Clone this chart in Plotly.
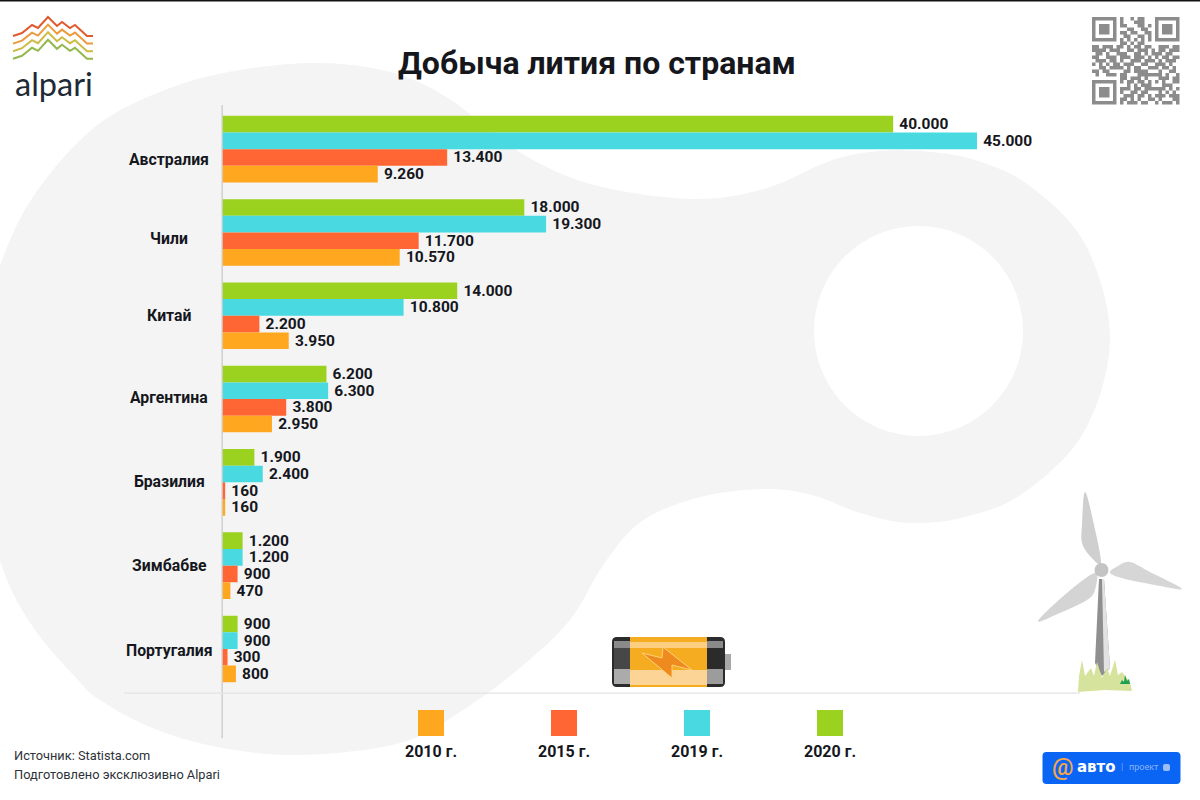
import plotly.graph_objects as go

# data
countries = ['Австралия', 'Чили', 'Китай', 'Аргентина', 'Бразилия', 'Зимбабве', 'Португалия']
years = ['2020 г.', '2019 г.', '2015 г.', '2010 г.']
y2020 = [40000, 18000, 14000, 6200, 1900, 1200, 900]
y2019 = [45000, 19300, 10800, 6300, 2400, 1200, 900]
y2015 = [13400, 11700, 2200, 3800, 160, 900, 300]
y2010 = [9260, 10570, 3950, 2950, 160, 470, 800]

title = 'Добыча лития по странам'
source_lines = ['Источник: Statista.com', 'Подготовлено эксклюзивно Alpari']

colors = ['#9BD11F', '#48DAE0', '#FF6633', '#FFA71F']
INK = '#15171c'
W, H = 1200, 800


# the page is 1200x800 and margins are 0, so paper coords are just pixels / size
def X(x):
    return x / W


def Y(y):
    return 1 - y / H


def poly(pts):
    return 'M' + ' L'.join(f'{X(x):.5f},{Y(y):.5f}' for x, y in pts) + ' Z'


def line_path(pts):
    return 'M' + ' L'.join(f'{X(x):.5f},{Y(y):.5f}' for x, y in pts)


def smooth(pts):
    # closed catmull-rom outline as cubic beziers
    n = len(pts)
    d = f'M{X(pts[0][0]):.5f},{Y(pts[0][1]):.5f}'
    for i in range(n):
        p0, p1, p2, p3 = pts[i - 1], pts[i], pts[(i + 1) % n], pts[(i + 2) % n]
        c1 = (p1[0] + (p2[0] - p0[0]) / 6, p1[1] + (p2[1] - p0[1]) / 6)
        c2 = (p2[0] - (p3[0] - p1[0]) / 6, p2[1] - (p3[1] - p1[1]) / 6)
        d += f' C{X(c1[0]):.5f},{Y(c1[1]):.5f} {X(c2[0]):.5f},{Y(c2[1]):.5f} {X(p2[0]):.5f},{Y(p2[1]):.5f}'
    return d + ' Z'


def round_rect(x0, y0, x1, y1, r):
    P = lambda x, y: f'{X(x):.5f},{Y(y):.5f}'
    return (f'M{P(x0 + r, y0)} L{P(x1 - r, y0)} Q{P(x1, y0)} {P(x1, y0 + r)} '
            f'L{P(x1, y1 - r)} Q{P(x1, y1)} {P(x1 - r, y1)} L{P(x0 + r, y1)} '
            f'Q{P(x0, y1)} {P(x0, y1 - r)} L{P(x0, y0 + r)} Q{P(x0, y0)} {P(x0 + r, y0)} Z')


shapes = []
notes = []


def fill(path, color, line=None, width=0):
    shapes.append(dict(type='path', path=path, xref='paper', yref='paper', layer='below',
                       fillcolor=color, line=dict(color=line or color, width=width)))


def stroke(path, color, width):
    shapes.append(dict(type='path', path=path, xref='paper', yref='paper', layer='below',
                       line=dict(color=color, width=width)))


def rect(x0, y0, x1, y1, color):
    shapes.append(dict(type='rect', x0=X(x0), x1=X(x1), y0=Y(y0), y1=Y(y1), xref='paper', yref='paper',
                       layer='below', fillcolor=color, line=dict(width=0)))


def circle(cx, cy, rx, ry, color):
    shapes.append(dict(type='circle', x0=X(cx - rx), x1=X(cx + rx), y0=Y(cy - ry), y1=Y(cy + ry),
                       xref='paper', yref='paper', layer='below', fillcolor=color, line=dict(width=0)))


def text(x, y, s, size, color=INK, weight=400, anchor='center', family='Roboto'):
    notes.append(dict(x=X(x), y=Y(y), xref='paper', yref='paper', text=s, showarrow=False,
                      xanchor=anchor, yanchor='middle',
                      font=dict(family=family, size=size, color=color, weight=weight)))


# grey blob behind the chart
blob = [(448, 98), (521, 153), (594, 185), (691, 199), (764, 189), (827, 162), (870, 152), (920, 151),
        (975, 160), (1030, 186), (1085, 244), (1110, 337), (1085, 430), (1025, 492), (965, 517), (909, 523),
        (860, 513), (812, 495), (764, 489), (700, 497), (642, 521), (604, 564), (570, 620), (521, 667),
        (463, 710), (400, 743), (300, 755), (217, 747), (150, 727), (100, 700), (78, 680), (35, 630),
        (5, 575), (-15, 500), (-25, 410), (-15, 320), (10, 240), (45, 180), (100, 123), (170, 88),
        (240, 70), (320, 63), (390, 72)]
fill(smooth(blob), '#F4F4F5')
circle(918.5, 331, 104.5, 105, '#FFFFFF')

# top border
rect(0, 0, W, 1.5, '#111111')

# axis lines
rect(221.5, 105, 222.8, 738, '#C9C9C9')
rect(124, 692.5, 1080, 693.8, '#E3E3E3')

# logo
zig = [(13, 36), (22, 33), (32, 25), (38, 28), (48, 17), (57, 26), (62, 22), (70, 28), (75, 25), (87, 36), (93, 36)]
for k, c in enumerate(['#DF5A2E', '#EC9A3C', '#CDBB45', '#93B84C']):
    stroke(line_path([(x, y + k * 7.6) for x, y in zig]), c, 2)
text(53.5, 83, 'alpari', 32.5, '#1E2A35', 400, family='Lato')

# QR code
qr_rows = [
    '1111111010010110001111111',
    '1000001010001110001000001',
    '1011101011000110101011101',
    '1011101000110011001011101',
    '1011101011011001101011101',
    '1000001001100110101000001',
    '1111111010101010101111111',
    '0000000011010110000000000',
    '1101110110101101100111011',
    '1111011100110111010110111',
    '0110100111001101011101100',
    '1100111011101110101011011',
    '0111011010011101110101110',
    '1010101101110011001110100',
    '0011011110101100111011010',
    '1101100001101111000100110',
    '0100111011000111111101001',
    '0000000011011101000111011',
    '1111111010110110101010011',
    '1000001000101011100011100',
    '1011101011101101111110101',
    '1011101010011011000101010',
    '1011101001110110101110111',
    '1000001011010100110100011',
    '1111111010111011001011101',
]
m = 3.5
qr_path = ''
for r, row in enumerate(qr_rows):
    for c, v in enumerate(row):
        if v == '1':
            x0, y0 = 1092 + c * m, 17 + r * m
            qr_path += poly([(x0, y0), (x0 + m, y0), (x0 + m, y0 + m), (x0, y0 + m)]) + ' '
fill(qr_path.strip(), '#8C8C8C')

# battery
fill(round_rect(612, 637, 725, 687, 5), '#2B2B2B')
rect(725, 654, 731, 670, '#A8A8A8')
rect(614, 641, 630, 648, '#8A8A8A')
rect(614, 648, 630, 669, '#474747')
rect(614, 669, 630, 684, '#ABABAB')
rect(707, 641, 723, 648, '#8A8A8A')
rect(707, 669, 723, 684, '#9C9C9C')
rect(630, 637, 707, 687, '#F5AC20')
rect(630, 642, 707, 648, '#FBCE80')
rect(630, 670, 707, 685, '#FCD596')
fill(poly([(642, 653), (662, 658), (663, 647), (692, 670), (672, 665), (672, 678)]), '#EE8A1E', '#FFD27A', 1)

# wind turbine
fill(poly([(1099, 579), (1104, 579), (1110, 668), (1102, 676), (1095, 663)]), '#8F8F8F')
fill(poly([(1102, 579), (1104, 579), (1110, 668), (1104, 672)]), '#E2E2E2')
fill(smooth([(1085, 492), (1094, 525), (1101, 563), (1090, 556), (1082, 543), (1082, 525)]), '#CFCFCF')
fill(smooth([(1182, 589), (1150, 572), (1130, 562), (1118, 566), (1110, 573), (1125, 579), (1150, 584)]), '#D6D6D6')
fill(smooth([(1038, 621), (1067, 593), (1095, 573), (1095, 590), (1087, 600), (1062, 612)]), '#D4D4D4')
circle(1101.5, 570, 7, 7, '#C4C4C4')

# grass
fill(poly([(1078, 692), (1079, 676), (1082, 660), (1085, 676), (1091, 668), (1094, 676), (1097, 662),
           (1102, 678), (1107, 668), (1110, 676), (1115, 660), (1118, 675), (1122, 672), (1130, 682),
           (1132, 691), (1105, 690)]), '#D6E39C')
fill(poly([(1120, 684), (1122, 680), (1124, 682), (1125, 675), (1127, 681), (1129, 679), (1130, 684)]), '#1F9E50')

# badge
fill(round_rect(1042.5, 752, 1180.5, 784, 4), '#0A65F5')
text(1063, 767, '@', 24, '#F4A64A', 500)
text(1096, 767, 'авто', 15, '#FFFFFF', 700, family='DejaVu Sans')
text(1122, 767, '|', 9, '#7FA9F5')
text(1144, 767, 'проект', 9, '#8CB4F7')
fill(round_rect(1163, 764, 1170, 771, 2), '#9CBEF8')

# legend, drawn by hand because the labels sit under the swatches
legend_x = [431, 564, 697, 830]
for cx, label, c in zip(legend_x, years[::-1], colors[::-1]):
    rect(cx - 13, 710, cx + 13, 736, c)
    text(cx, 751, label, 16, INK, 700)

text(597, 63, title, 32, INK, 700)
text(12, 755, source_lines[0], 12.8, '#2E3238', 400, anchor='left')
text(12, 774, source_lines[1], 12.8, '#2E3238', 400, anchor='left')

# country names are centred, not right aligned like normal tick labels
name_shift = [-10, -6, 0, 2, 1, 0, -2]
for name, shift in zip(countries, name_shift):
    notes.append(dict(x=X(169), y=name, xref='paper', yref='y', yshift=shift, text=name, showarrow=False,
                      xanchor='center', yanchor='middle',
                      font=dict(family='Roboto', size=15.8, color=INK, weight=700)))

fig = go.Figure()
for name, values, c in zip(years, [y2020, y2019, y2015, y2010], colors):
    fig.add_trace(go.Bar(y=countries, x=values, name=name, orientation='h',
                         marker=dict(color=c, line=dict(width=0)),
                         texttemplate='\u2009%{x:,.0f}', textposition='outside', cliponaxis=False,
                         textangle=0, constraintext='none',
                         textfont=dict(family='Roboto', size=15.5, color=INK, weight=700)))

fig.update_layout(
    width=W, height=H,
    margin=dict(l=0, r=0, t=0, b=0, pad=0),
    paper_bgcolor='#FFFFFF', plot_bgcolor='rgba(0,0,0,0)',
    barmode='group', bargap=0.2, bargroupgap=0,
    separators=',.',
    showlegend=False,
    shapes=shapes, annotations=notes,
    xaxis=dict(domain=[222.5 / W, 1], range=[0, 58300], visible=False),
    yaxis=dict(domain=[Y(690.6), Y(107.5)], categoryorder='array', categoryarray=countries,
               autorange='reversed', showticklabels=False, showgrid=False, zeroline=False,
               showline=False, ticks=''),
)

fig.write_html('out.html', config=dict(displayModeBar=False),
               post_script="document.body.style.margin='0';")
